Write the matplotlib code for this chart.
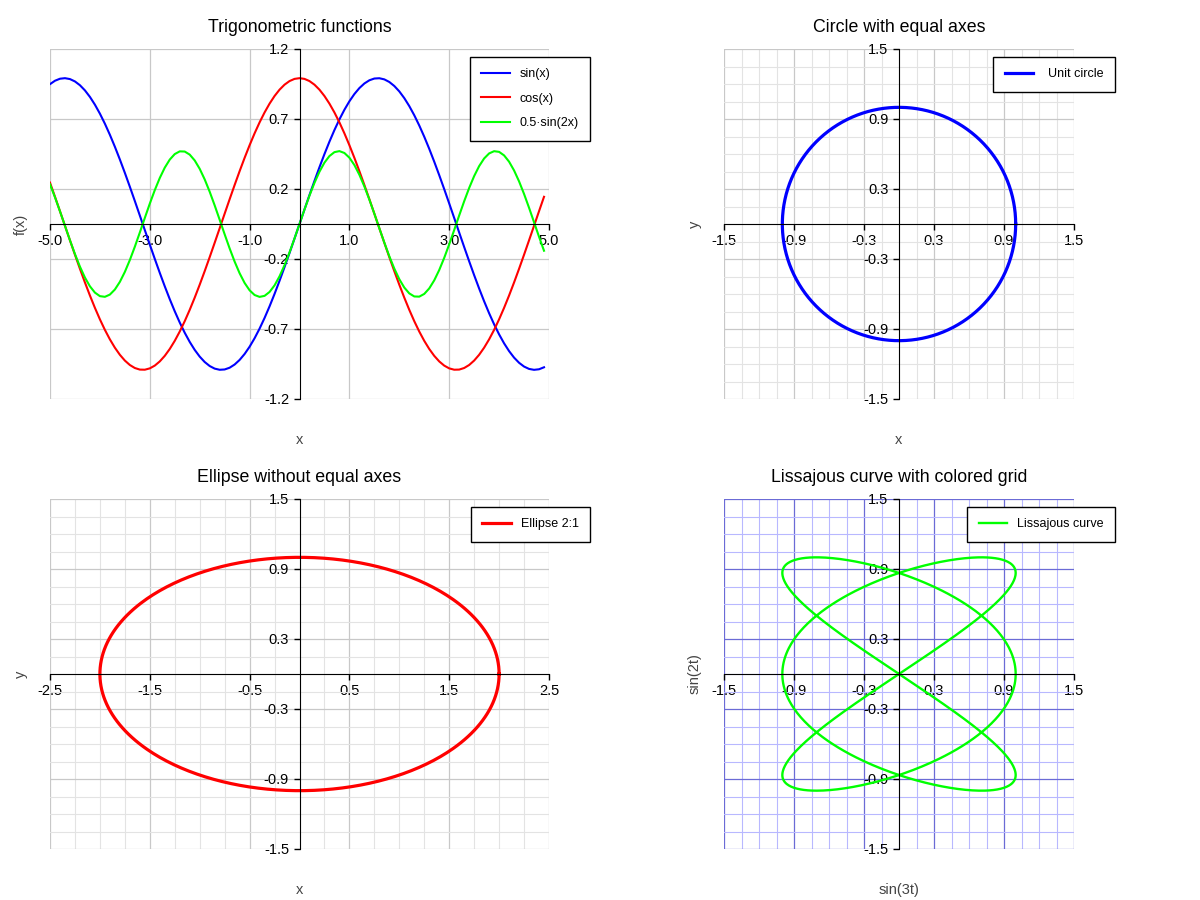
import numpy as np
import matplotlib
matplotlib.use('Agg')
import matplotlib.pyplot as plt
from matplotlib.ticker import FormatStrFormatter, AutoMinorLocator

plt.rcParams['font.family'] = ['Liberation Sans', 'DejaVu Sans']

# ranges and ticks of the four panels
trig_x = np.arange(-5, 5, 0.1)
trig_xticks = [-5.0, -3.0, -1.0, 1.0, 3.0, 5.0]
trig_yticks = [-1.2, -0.72, -0.24, 0.24, 0.72, 1.2]

circle_t = np.linspace(0, 2 * np.pi, 400)
circle_ticks = [-1.5, -0.9, -0.3, 0.3, 0.9, 1.5]

ellipse_a = 2.0
ellipse_b = 1.0
ellipse_xticks = [-2.5, -1.5, -0.5, 0.5, 1.5, 2.5]
ellipse_yticks = [-1.5, -0.9, -0.3, 0.3, 0.9, 1.5]

liss_t = np.linspace(0, 2 * np.pi, 1000)
liss_fx = 3
liss_fy = 2
liss_ticks = [-1.5, -0.9, -0.3, 0.3, 0.9, 1.5]

fig = plt.figure(figsize=(12, 9), dpi=100)


def setup(ax, xticks, yticks, title, xlabel, ylabel, minor=True,
          major_col='#c8c8c8', minor_col='#e3e3e3'):
    ax.set_xlim(xticks[0], xticks[-1])
    ax.set_ylim(yticks[0], yticks[-1])
    ax.set_xticks(xticks)
    ax.set_yticks(yticks)
    ax.xaxis.set_major_formatter(FormatStrFormatter('%.1f'))
    ax.yaxis.set_major_formatter(FormatStrFormatter('%.1f'))
    ax.spines['left'].set_position('zero')
    ax.spines['bottom'].set_position('zero')
    ax.spines['top'].set_visible(False)
    ax.spines['right'].set_visible(False)
    ax.tick_params(labelsize=10.5, length=4, width=1, colors='black')
    if minor:
        ax.xaxis.set_minor_locator(AutoMinorLocator(4))
        ax.yaxis.set_minor_locator(AutoMinorLocator(4))
        ax.tick_params(which='minor', length=0)
        ax.grid(True, which='minor', color=minor_col, linewidth=0.8, zorder=0)
    ax.grid(True, which='major', color=major_col, linewidth=0.9, zorder=0)
    ax.set_axisbelow(True)
    ax.set_title(title, fontsize=12.8, pad=12)
    ax.set_xlabel(xlabel, fontsize=10.5, color='#444444')
    ax.set_ylabel(ylabel, fontsize=10.5, color='#444444')
    w = ax.get_position().width * 1200
    ax.xaxis.set_label_coords(0.5, -34 / 350)
    ax.yaxis.set_label_coords(-22 / w, 0.5)


def legend(ax, pad=0.8):
    w = ax.get_position().width * 1200
    leg = ax.legend(loc='upper right', bbox_to_anchor=(1 + 41 / w, 1 - 8 / 350),
                    borderaxespad=0, fancybox=False, framealpha=1,
                    edgecolor='black', fontsize=9, borderpad=0.9,
                    labelspacing=1.0, handlelength=2.3, handletextpad=pad)
    leg.get_frame().set_linewidth(1.0)


# top left: trigonometric functions
ax1 = fig.add_axes([50 / 1200, 1 - 399 / 900, 499 / 1200, 350 / 900])
ax1.plot(trig_x, np.sin(trig_x), color='blue', lw=1.5, label='sin(x)')
ax1.plot(trig_x, np.cos(trig_x), color='red', lw=1.5, label='cos(x)')
ax1.plot(trig_x, 0.5 * np.sin(2 * trig_x), color='#00ff00', lw=1.5,
         label='0.5·sin(2x)')
setup(ax1, trig_xticks, trig_yticks, 'Trigonometric functions', 'x', 'f(x)',
      minor=False)
legend(ax1)

# top right: circle
ax2 = fig.add_axes([724 / 1200, 1 - 399 / 900, 350 / 1200, 350 / 900])
ax2.plot(np.cos(circle_t), np.sin(circle_t), color='blue', lw=2.3,
         label='Unit circle')
setup(ax2, circle_ticks, circle_ticks, 'Circle with equal axes', 'x', 'y')
legend(ax2, pad=1.2)

# bottom left: ellipse
ax3 = fig.add_axes([50 / 1200, 1 - 849 / 900, 499 / 1200, 350 / 900])
ax3.plot(ellipse_a * np.cos(circle_t), ellipse_b * np.sin(circle_t),
         color='red', lw=2.3, label='Ellipse 2:1')
setup(ax3, ellipse_xticks, ellipse_yticks, 'Ellipse without equal axes',
      'x', 'y')
legend(ax3)

# bottom right: Lissajous
ax4 = fig.add_axes([724 / 1200, 1 - 849 / 900, 350 / 1200, 350 / 900])
ax4.plot(np.sin(liss_fx * liss_t), np.sin(liss_fy * liss_t),
         color='#00ff00', lw=1.7, label='Lissajous curve')
setup(ax4, liss_ticks, liss_ticks, 'Lissajous curve with colored grid',
      'sin(3t)', 'sin(2t)', major_col='#6b6bd6', minor_col='#b8b8ff')
legend(ax4)

fig.savefig('out.png', dpi=100)
